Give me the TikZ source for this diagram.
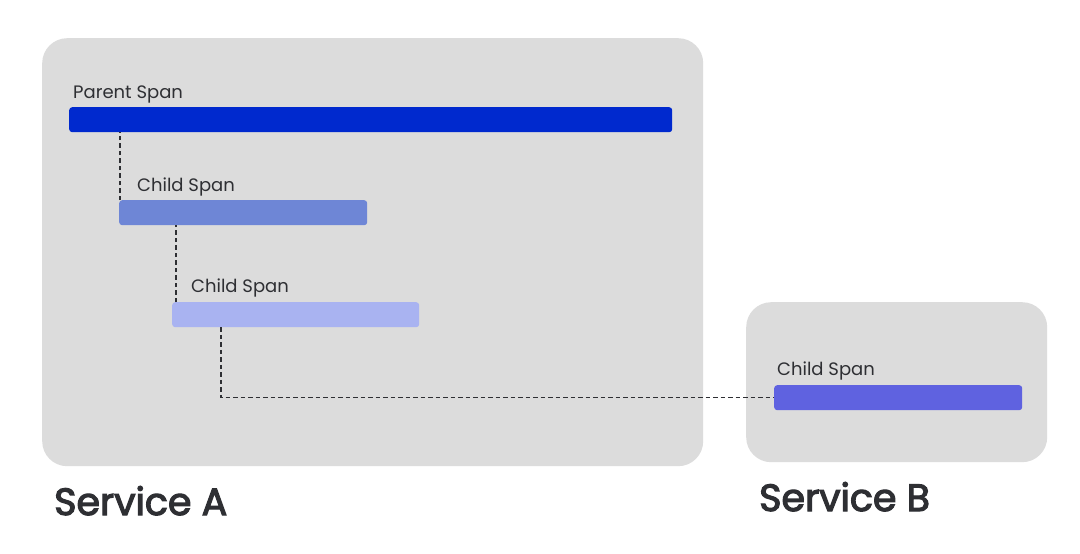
\documentclass[tikz,border=0pt]{standalone}
\usepackage{fontspec}
\setmainfont{Poppins}
\newfontfamily\svcfont[FakeBold=3]{Poppins}
\usetikzlibrary{positioning}

\definecolor{boxgray}{HTML}{DCDCDC}
\definecolor{labelgray}{HTML}{2E2F33}
\definecolor{parentblue}{HTML}{0029CE}
\definecolor{childone}{HTML}{6E86D6}
\definecolor{childtwo}{HTML}{A9B3F1}
\definecolor{childb}{HTML}{5F62E0}

\tikzset{
  service/.style={fill=boxgray,rounded corners=25pt,inner sep=0pt,anchor=north west},
  span/.style={rounded corners=3pt,minimum height=25pt,inner sep=0pt,anchor=north west},
  spanlabel/.style={text=labelgray,font=\fontsize{18}{21}\selectfont,inner sep=0pt,anchor=base west},
  svclabel/.style={text=labelgray,font=\fontsize{38}{44}\selectfont\svcfont,inner sep=0pt,anchor=base west},
  link/.style={labelgray,line width=1.4pt,dash pattern=on 4.5pt off 3pt}
}

\begin{document}
\begin{tikzpicture}[x=1pt,y=-1pt]
  \useasboundingbox[fill=white] (0,0) rectangle (1080,554);
  % services
  \node[service,minimum width=661pt,minimum height=428pt] (svcA) at (42,38) {};
  \node[service,minimum width=301pt,minimum height=160pt] (svcB) at (746,302) {};
  \node[svclabel] (svcAlbl) at (54,515) {Service A};
  \node[svclabel] (svcBlbl) at (759,511) {Service B};
  % spans
  \node[span,fill=parentblue,minimum width=603pt] (parent) at (69,107) {};
  \node[span,fill=childone,minimum width=248pt] (child1) at (119,200) {};
  \node[span,fill=childtwo,minimum width=247pt] (child2) at (172,302) {};
  \node[span,fill=childb,minimum width=248pt] (childB) at (774,385) {};
  \node[spanlabel] (parentlbl) at (73,98) {Parent Span};
  \node[spanlabel] (child1lbl) at (137,191) {Child Span};
  \node[spanlabel] (child2lbl) at (191,292) {Child Span};
  \node[spanlabel] (childBlbl) at (777,375) {Child Span};
  % links
  \draw[link] ([xshift=1pt]child1.north west) -- ([xshift=1pt]child1.north west |- parent.south);
  \draw[link] ([xshift=4pt]child2.north west) -- ([xshift=4pt]child2.north west |- child1.south);
  \draw[link] ([xshift=49pt]child2.south west) |- (childB.west);
\end{tikzpicture}
\end{document}
